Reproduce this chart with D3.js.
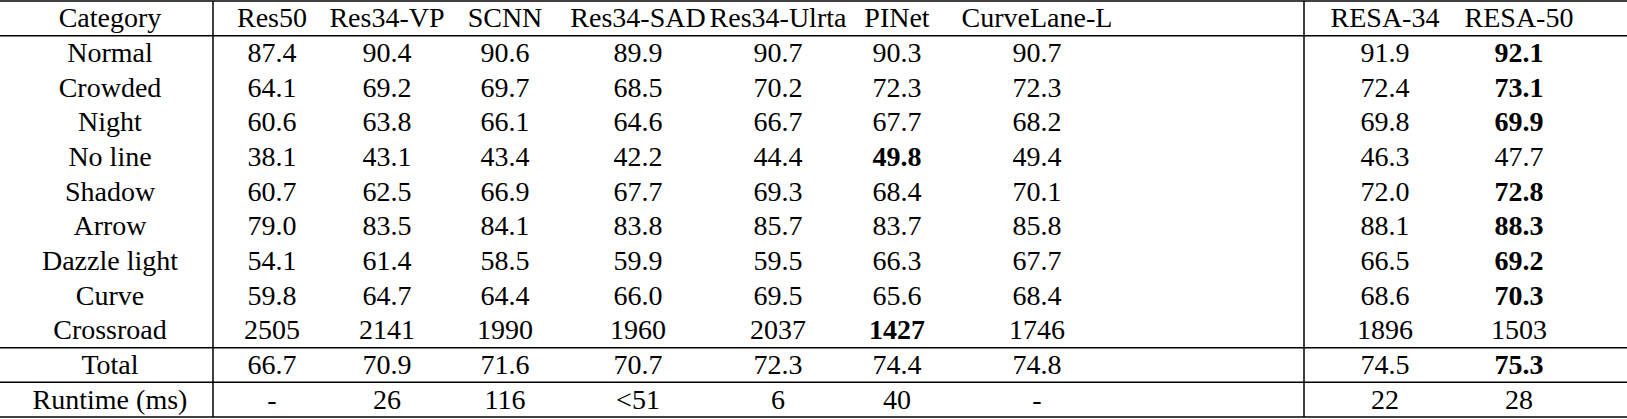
<!DOCTYPE html>
<html><head><meta charset="utf-8">
<script src="https://cdn.jsdelivr.net/npm/d3@7"></script>
<style>body{margin:0;background:#fff}svg{display:block}</style></head>
<body><svg id="c" width="1627" height="419"></svg>
<script>
const columns = ["Category","Res50","Res34-VP","SCNN","Res34-SAD","Res34-Ulrta","PINet","CurveLane-L","RESA-34","RESA-50"];
const categories = ["Normal","Crowded","Night","No line","Shadow","Arrow","Dazzle light","Curve","Crossroad","Total","Runtime (ms)"];
const res50      = ["87.4","64.1","60.6","38.1","60.7","79.0","54.1","59.8","2505","66.7","-"];
const res34vp    = ["90.4","69.2","63.8","43.1","62.5","83.5","61.4","64.7","2141","70.9","26"];
const scnn       = ["90.6","69.7","66.1","43.4","66.9","84.1","58.5","64.4","1990","71.6","116"];
const res34sad   = ["89.9","68.5","64.6","42.2","67.7","83.8","59.9","66.0","1960","70.7","<51"];
const res34ultra = ["90.7","70.2","66.7","44.4","69.3","85.7","59.5","69.5","2037","72.3","6"];
const pinet      = ["90.3","72.3","67.7","49.8","68.4","83.7","66.3","65.6","1427","74.4","40"];
const curvelane  = ["90.7","72.3","68.2","49.4","70.1","85.8","67.7","68.4","1746","74.8","-"];
const resa34     = ["91.9","72.4","69.8","46.3","72.0","88.1","66.5","68.6","1896","74.5","22"];
const resa50     = ["92.1","73.1","69.9","47.7","72.8","88.3","69.2","70.3","1503","75.3","28"];
// [row, column] of bold cells (column index into `columns`)
const boldCells = [[0,9],[1,9],[2,9],[3,6],[4,9],[5,9],[6,9],[7,9],[8,6],[9,9]];
const series = [res50,res34vp,scnn,res34sad,res34ultra,pinet,curvelane,resa34,resa50];

const svg = d3.select("#c");
const colCenters = [110,272,387,505,638,778,897,1037,1385,1519];
const x = d3.scaleOrdinal().domain(columns).range(colCenters);
const rowsAll = ["header", ...categories];
const y = d3.scaleBand().domain(rowsAll).range([1, 417]).padding(0);
const font = "'Liberation Serif','Times New Roman',serif";
const g = svg.append("g").attr("font-family", font).attr("font-size", 28).attr("fill","#000")
  .attr("text-anchor","middle");
const cy = r => y(r) + y.bandwidth()/2 + 9;
g.selectAll("text.h").data(columns).join("text").attr("class","h")
  .attr("x", d => x(d)).attr("y", cy("header")).text(d => d);
categories.forEach((cat, i) => {
  g.append("text").attr("x", x(columns[0])).attr("y", cy(cat)).text(cat);
  series.forEach((s, j) => {
    const b = boldCells.some(([r,c]) => r===i && c===j+1);
    g.append("text").attr("x", x(columns[j+1])).attr("y", cy(cat))
      .attr("font-weight", b ? "bold" : null).text(s[i]);
  });
});
const lines = svg.append("g").attr("stroke","#000").attr("stroke-width",1.5);
[y("header"), y("Normal"), y("Total"), y("Runtime (ms)"), 417].forEach(v =>
  lines.append("line").attr("x1",0).attr("x2",1627).attr("y1",v).attr("y2",v));
[213,1304].forEach(v => lines.append("line").attr("x1",v).attr("x2",v).attr("y1",1).attr("y2",417));
</script></body></html>
